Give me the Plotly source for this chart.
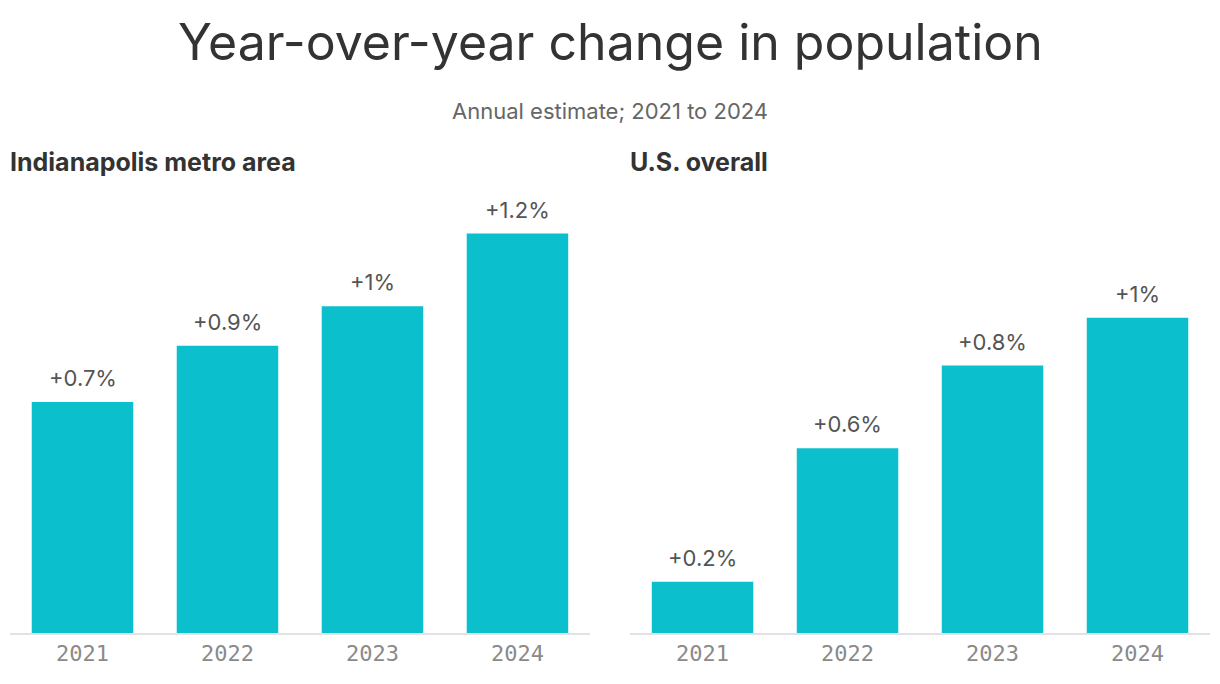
import plotly.graph_objects as go
from plotly.subplots import make_subplots

years = ["2021", "2022", "2023", "2024"]
indy_change = [0.70, 0.87, 0.99, 1.21]
indy_labels = ["+0.7%", "+0.9%", "+1%", "+1.2%"]
us_change = [0.155, 0.56, 0.81, 0.955]
us_labels = ["+0.2%", "+0.6%", "+0.8%", "+1%"]

bar_color = "#0bc0cc"

# page puts the chart ~8px in from the top-left, so work in shifted pixels
OFF = 8
TOP, BOTTOM = 190 - OFF, 633 - OFF


def py(pixel_y):
    # reference pixel row -> paper coordinate
    return (BOTTOM - (pixel_y - OFF)) / (BOTTOM - TOP)


fig = make_subplots(rows=1, cols=2, horizontal_spacing=0.0334)

panels = [(indy_change, indy_labels), (us_change, us_labels)]
for i, (vals, labels) in enumerate(panels):
    fig.add_trace(
        go.Bar(
            x=years,
            y=vals,
            marker=dict(color=bar_color, line=dict(width=0)),
            width=0.7,
            hoverinfo="skip",
        ),
        row=1, col=i + 1,
    )
    xref = "x" if i == 0 else "x2"
    yref = "y" if i == 0 else "y2"
    # category axis: numeric-looking names would be read as indexes, so pass the index
    for k, (v, lab) in enumerate(zip(vals, labels)):
        fig.add_annotation(
            x=k, y=v, xref=xref, yref=yref, text=lab,
            showarrow=False, yanchor="bottom", yshift=9,
            font=dict(family="Inter", size=22, color="#555555"),
        )

fig.update_xaxes(
    type="category",
    range=[-0.5, len(years) - 0.5],
    showgrid=False,
    showline=True,
    linecolor="#e2e2e2",
    linewidth=2,
    ticks="",
    tickfont=dict(family="DejaVu Sans Mono", size=22, color="#8a8a8a"),
)
fig.update_yaxes(range=[0, 1.342], visible=False, showgrid=False)

fig.add_annotation(
    text="Year-over-year change in population",
    x=0.5, y=py(42), xref="paper", yref="paper", yanchor="middle",
    xanchor="center", showarrow=False,
    font=dict(family="Inter", size=50, color="#333333"),
)
fig.add_annotation(
    text="Annual estimate; 2021 to 2024",
    x=0.5, y=py(111), xref="paper", yref="paper", yanchor="middle",
    xanchor="center", showarrow=False,
    font=dict(family="Inter", size=22, color="#666666"),
)
fig.add_annotation(
    text="<b>Indianapolis metro area</b>",
    x=0, y=py(162), xref="paper", yref="paper", yanchor="middle",
    xanchor="left", xshift=-2, showarrow=False,
    font=dict(family="Inter", size=25, color="#333333"),
)
fig.add_annotation(
    text="<b>U.S. overall</b>",
    x=0.5167, y=py(162), xref="paper", yref="paper", yanchor="middle",
    xanchor="left", xshift=-2, showarrow=False,
    font=dict(family="Inter", size=25, color="#333333"),
)

fig.update_layout(
    width=1220,
    height=684,
    margin=dict(l=10 - OFF, r=10 + OFF, t=TOP, b=684 - BOTTOM),
    plot_bgcolor="white",
    paper_bgcolor="white",
    showlegend=False,
)

fig.write_html("out.html")
